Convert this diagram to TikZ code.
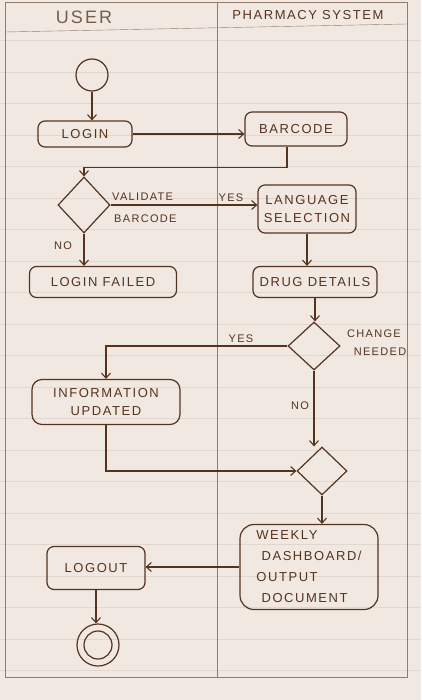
\documentclass[tikz,border=0pt]{standalone}
\usepackage{fontspec}
\newfontfamily\hand[LetterSpace=12]{Liberation Sans}
\usetikzlibrary{shapes.geometric,arrows.meta}
\definecolor{ink}{HTML}{55341F}
\definecolor{paper}{HTML}{F1E8E1}
\definecolor{rule}{HTML}{E2D7CF}

\tikzset{
  act/.style={draw=ink,line width=1.2pt,rounded corners=7pt,text=ink,align=center,
              font=\hand\fontsize{13}{18}\selectfont,inner sep=2pt},
  decide/.style={draw=ink,line width=1.2pt,diamond,aspect=1,inner sep=0pt},
  flow/.style={draw=ink,line width=1.1pt,-{Straight Barb[length=5pt,width=9pt]}},
  lbl/.style={text=ink,font=\hand\fontsize{11}{13}\selectfont,inner sep=1pt}}

\begin{document}
\begin{tikzpicture}[x=1pt,y=-1pt]
    \useasboundingbox (0,0) rectangle (421,700);
    % ---- paper and ruled lines ----
    \fill[paper] (0,0) rectangle (421,700);
    \foreach \r in {40.5,72,103.5,135,166.5,198,229.5,261,292.5,324,355.5,387,418.5,450,481.5,513,544.5,576,607.5,639,670.5}{
      \draw[rule,thin] (0,\r) -- (421,\r);}
    % ---- swimlanes ----
    \draw[ink!65,thin] (5,2) rectangle (407,677);
    \draw[ink!65,thin] (217,2) -- (217,677);
    \draw[ink!65,thin] (5,32) -- (407,24);
    \node[text=ink!80,font=\hand\fontsize{18}{20}\selectfont] (userlane) at (84,17) {USER};
    \node[text=ink,font=\hand\fontsize{13}{15}\selectfont] (syslane) at (308,15) {PHARMACY SYSTEM};

    % ---- user side ----
    \node[draw=ink,line width=1.2pt,circle,minimum size=32pt] (start) at (92,75) {};
    \node[act,minimum width=94pt,minimum height=26pt] (login) at (85,134) {LOGIN};
    \node[decide,minimum width=52pt,minimum height=56pt] (valid) at (84,205) {};
    \node[act,minimum width=147pt,minimum height=31pt] (failed) at (103,282) {LOGIN FAILED};
    \node[act,minimum width=148pt,minimum height=45pt,rounded corners=10pt] (info) at (106,402) {INFORMATION\\UPDATED};
    \node[act,minimum width=98pt,minimum height=43pt] (logout) at (96,568) {LOGOUT};
    \node[draw=ink,line width=1.2pt,circle,minimum size=42pt] (stop) at (98,645) {};
    \node[draw=ink,line width=1.2pt,circle,minimum size=28pt] (stopin) at (stop) {};

    % ---- system side ----
    \node[act,minimum width=102pt,minimum height=34pt] (barcode) at (296,129) {BARCODE};
    \node[act,minimum width=98pt,minimum height=48pt] (lang) at (307,209) {LANGUAGE\\SELECTION};
    \node[act,minimum width=124pt,minimum height=31pt] (drug) at (315,282) {DRUG DETAILS};
    \node[decide,minimum width=52pt,minimum height=48pt] (change) at (314,346) {};
    \node[decide,minimum width=50pt,minimum height=48pt] (merge) at (322,471) {};
    \node[act,minimum width=138pt,minimum height=85pt,rounded corners=14pt,align=left,
          font=\hand\fontsize{13}{21}\selectfont] (weekly) at (309,567)
          {WEEKLY\\\ DASHBOARD/\\OUTPUT\\\ DOCUMENT};

    % ---- labels ----
    \node[lbl,anchor=west] (validtxt) at (111,197) {VALIDATE};
    \node[lbl,anchor=west] (validtxt2) at (113,219) {BARCODE};
    \node[lbl] (yes1) at (231,198) {YES};
    \node[lbl] (no1) at (63,246) {NO};
    \node[lbl] (yes2) at (241,339) {YES};
    \node[lbl] (changetxt) at (374,334) {CHANGE};
    \node[lbl] (changetxt2) at (380,352) {NEEDED};
    \node[lbl] (no2) at (300,406) {NO};

    % ---- flows ----
    \draw[flow] (start.south) -- (start.south |- login.north);
    \draw[flow] (login.east) -- (login.east -| barcode.west);
    \draw[flow] ([xshift=-9pt]barcode.south) -- ++(0,21) -| (valid.north);
    \draw[flow] (valid.east) -- (valid.east -| lang.west);
    \draw[flow] (valid.south) -- (valid.south |- failed.north);
    \draw[flow] (lang.south) -- (lang.south |- drug.north);
    \draw[flow] (drug.south) -- (drug.south |- change.north);
    \draw[flow] (change.west) -| (info.north);
    \draw[flow] (info.south) |- (merge.west);
    \draw[flow] (change.south) -- (change.south |- merge.north);
    \draw[flow] (merge.south) -- (merge.south |- weekly.north);
    \draw[flow] (weekly.west) -- (weekly.west -| logout.east);
    \draw[flow] (logout.south) -- (logout.south |- stop.north);
\end{tikzpicture}
\end{document}
